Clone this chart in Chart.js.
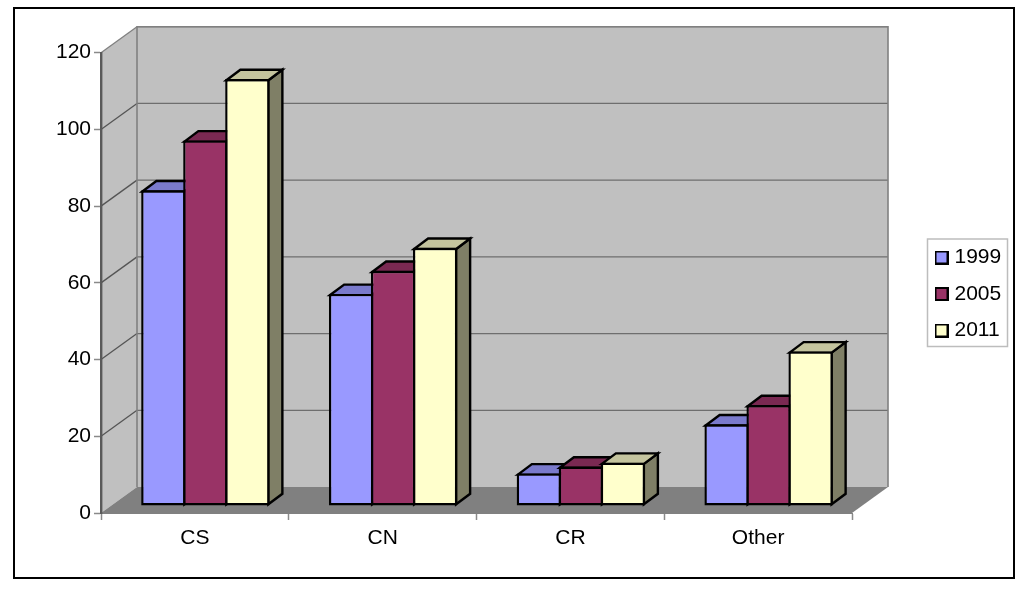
<!DOCTYPE html>
<html>
<head>
<meta charset="utf-8">
<style>html,body{margin:0;padding:0;background:#fff}canvas{display:block}</style>
<script src="https://cdn.jsdelivr.net/npm/chart.js@4"></script>
</head>
<body>
<canvas id="c" width="1024" height="590"></canvas>
<script>
const categories = ['CS', 'CN', 'CR', 'Other'];
const seriesNames = ['1999', '2005', '2011'];
const values1999 = [82.3, 55.3, 8.5, 21.3];
const values2005 = [95.3, 61.3, 10.3, 26.3];
const values2011 = [111.3, 67.3, 11.3, 40.3];
const frontColors = ['#9999FF', '#993366', '#FFFFCC'];
const topColors = ['#7A7ACC', '#7A2952', '#C4C49E'];
const sideColors = ['#4C4C7F', '#4C1933', '#7F7F66'];
const depth = {x: 36, y: -26};          // wall offset behind the axis plane
const barShift = {x: 10.5, y: -7};      // bars stand part-way into the floor
const barDepth = {x: 14, y: -10.5};     // extrusion of each bar
const barLine = 2.4;

function swatch(fill) {
  const s = document.createElement('canvas');
  s.width = 14; s.height = 14;
  const g = s.getContext('2d');
  g.fillStyle = fill; g.fillRect(0, 0, 14, 14);
  g.strokeStyle = '#000'; g.lineWidth = 2; g.strokeRect(1, 1, 12, 12);
  return s;
}
function poly(ctx, pts, fill, stroke, lw) {
  ctx.beginPath();
  pts.forEach((p, i) => i ? ctx.lineTo(p[0], p[1]) : ctx.moveTo(p[0], p[1]));
  ctx.closePath();
  if (fill) { ctx.fillStyle = fill; ctx.fill(); }
  if (stroke) { ctx.strokeStyle = stroke; ctx.lineWidth = lw; ctx.stroke(); }
}
const scene = {
  id: 'scene',
  afterLayout(chart) {
    const l = chart.legend;
    l.left = 923.5; l.right = 1007; l.top = 231.5; l.bottom = 420;
  },
  beforeDraw(chart) {
    const {ctx, scales: {x, y}} = chart;
    const L = x.left, R = x.right, T = y.top, B = y.bottom, dx = depth.x, dy = depth.y;
    ctx.save();
    ctx.fillStyle = '#fff'; ctx.fillRect(0, 0, chart.width, chart.height);
    ctx.strokeStyle = '#000'; ctx.lineWidth = 2;
    ctx.strokeRect(14, 8, 1000, 570);
    // walls
    poly(ctx, [[L, T], [L + dx, T + dy], [L + dx, B + dy], [L, B]], '#C0C0C0');
    poly(ctx, [[L + dx, T + dy], [R + dx, T + dy], [R + dx, B + dy], [L + dx, B + dy]], '#C0C0C0');
    // floor
    poly(ctx, [[L, B], [R, B], [R + dx, B + dy], [L + dx, B + dy]], '#808080');
    // gridlines
    y.ticks.forEach(t => {
      if (t.value === 0) return;
      const py = y.getPixelForValue(t.value);
      ctx.lineWidth = 1.3;
      ctx.strokeStyle = '#6E6E6E';
      ctx.beginPath(); ctx.moveTo(L + dx, py + dy); ctx.lineTo(R + dx, py + dy); ctx.stroke();
      ctx.strokeStyle = t.value === 120 ? '#808080' : '#555';
      ctx.beginPath(); ctx.moveTo(L, py); ctx.lineTo(L + dx, py + dy); ctx.stroke();
    });
    // wall edges
    ctx.strokeStyle = '#808080'; ctx.lineWidth = 1.6;
    ctx.beginPath();
    ctx.moveTo(L + dx, B + dy); ctx.lineTo(L + dx, T + dy); ctx.lineTo(R + dx, T + dy); ctx.lineTo(R + dx, B + dy);
    ctx.stroke();
    // legend frame
    ctx.strokeStyle = '#BDBDBD'; ctx.lineWidth = 1.5;
    ctx.strokeRect(927.5, 239, 80, 107.5);
    ctx.restore();
  },
  beforeDatasetsDraw(chart) {
    const ctx = chart.ctx;
    ctx.save();
    ctx.translate(barShift.x, barShift.y);
    ctx.lineJoin = 'miter';
    const h = barLine / 2;
    chart.data.datasets.forEach((ds, di) => {
      chart.getDatasetMeta(di).data.forEach(el => {
        const p = el.getProps(['x', 'y', 'base', 'width']);
        const l = p.x - p.width / 2 + h, r = p.x + p.width / 2 - h, t = p.y + h, b = p.base - h;
        const ddx = barDepth.x, ddy = barDepth.y;
        poly(ctx, [[r, b], [r + ddx, b + ddy], [r + ddx, t + ddy], [r, t]], sideColors[di], '#000', barLine);
        poly(ctx, [[l, t], [l + ddx, t + ddy], [r + ddx, t + ddy], [r, t]], topColors[di], '#000', barLine);
        el.draw(ctx);
      });
    });
    ctx.restore();
    return false;
  }
};
const font = {family: '"Liberation Sans", Arial, sans-serif', size: 21};
const allValues = [values1999, values2005, values2011];
new Chart(document.getElementById('c'), {
  type: 'bar',
  data: {
    labels: categories,
    datasets: seriesNames.map((n, i) => ({
      label: n,
      data: allValues[i],
      backgroundColor: frontColors[i],
      borderColor: '#000',
      borderWidth: barLine,
      borderSkipped: false,
      categoryPercentage: 126 / 187.75,
      barPercentage: (42 + barLine) / 42
    }))
  },
  options: {
    responsive: false,
    animation: false,
    devicePixelRatio: 1,
    layout: {padding: {top: 52.7, right: 172, left: 0, bottom: 0}},
    plugins: {
      title: {display: false},
      tooltip: {enabled: false},
      legend: {
        display: true,
        position: 'chartArea',
        align: 'start',
        labels: {
          font,
          color: '#000',
          usePointStyle: true,
          pointStyleWidth: 5,
          boxHeight: 13,
          padding: 15.5,
          generateLabels: c => c.data.datasets.map((d, i) => ({
            text: d.label,
            datasetIndex: i,
            fillStyle: frontColors[i],
            strokeStyle: '#000',
            lineWidth: 0,
            pointStyle: swatch(frontColors[i])
          }))
        }
      }
    },
    scales: {
      x: {
        type: 'category',
        afterFit: s => { s.height = 77; },
        grid: {offset: true, drawOnChartArea: false, drawTicks: true, tickLength: 7, tickColor: '#8A8A8A', tickWidth: 1.5},
        border: {display: true, color: '#808080', width: 1},
        ticks: {font, color: '#000', padding: 6, maxRotation: 0}
      },
      y: {
        type: 'linear',
        min: 0,
        max: 120,
        afterFit: s => { s.width = 101; },
        grid: {drawOnChartArea: false, drawTicks: true, tickLength: 7, tickColor: '#8A8A8A', tickWidth: 1.5},
        border: {display: true, color: '#5A5A5A', width: 2.4},
        ticks: {font, color: '#000', stepSize: 20, padding: 3}
      }
    }
  },
  plugins: [scene]
});
</script>
</body>
</html>
